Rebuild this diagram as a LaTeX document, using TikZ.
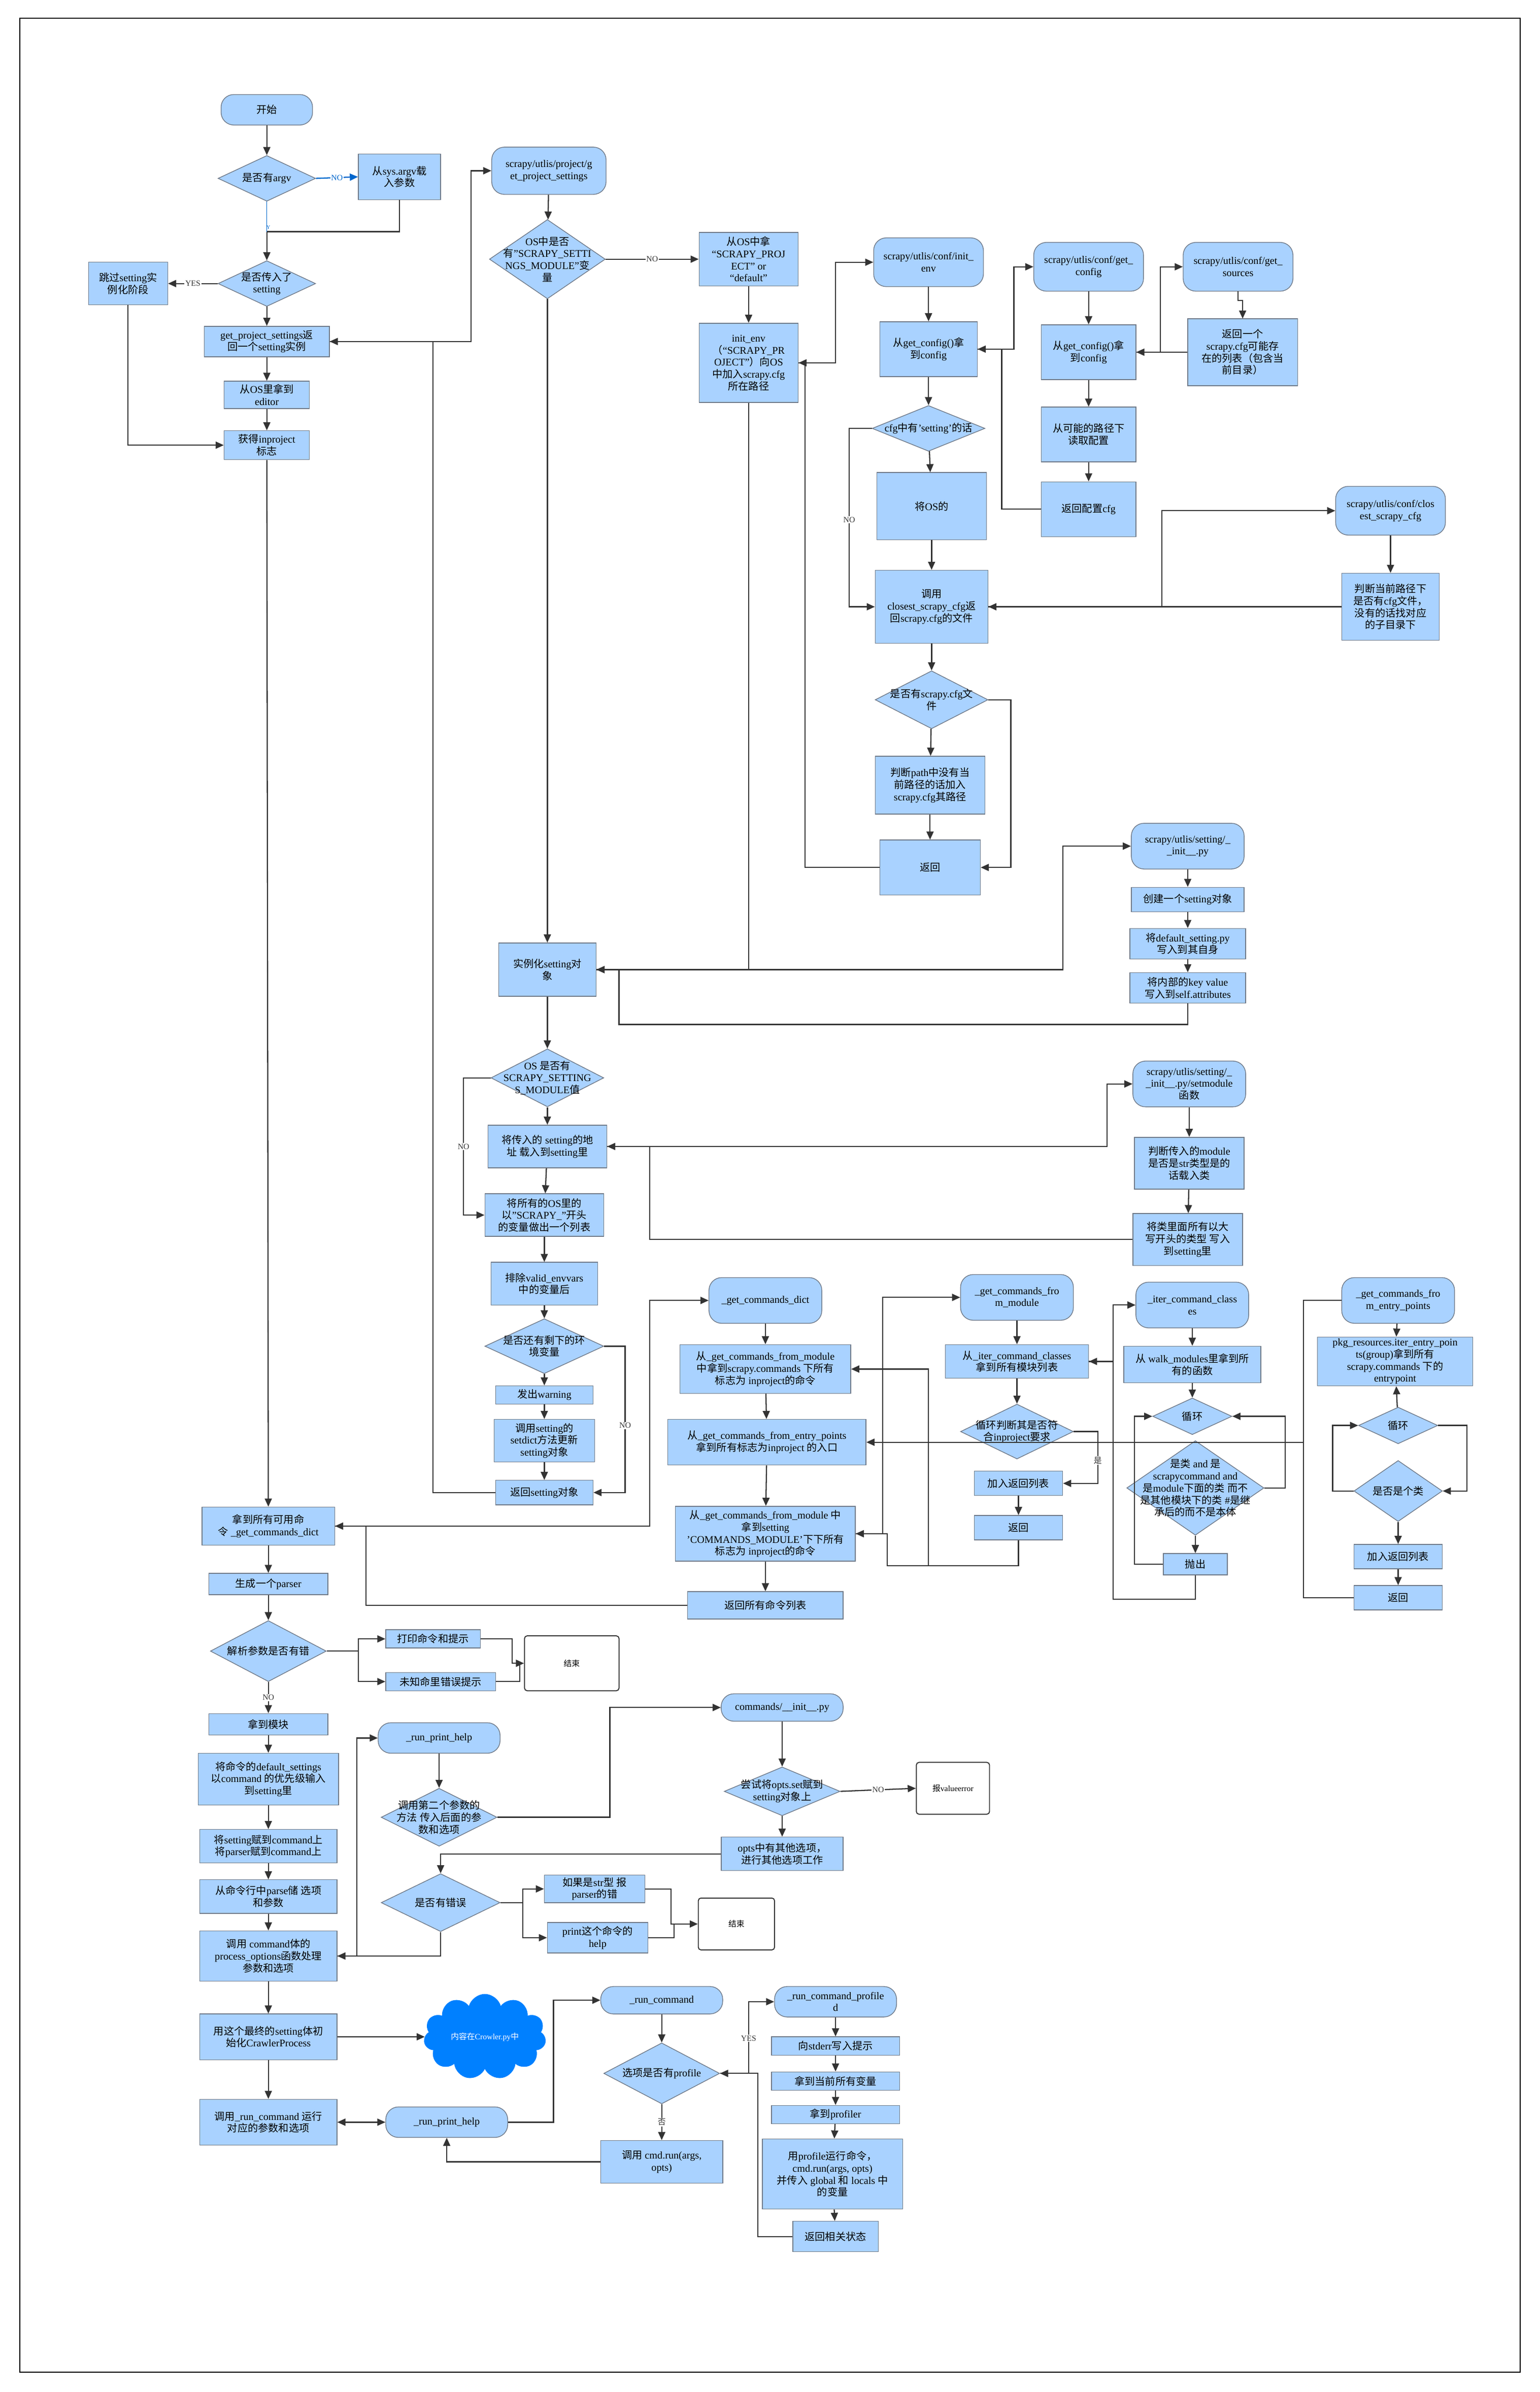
\documentclass[tikz,border=0pt]{standalone}
\usepackage{fontspec}
\setmainfont{Liberation Serif}
\newfontfamily\cjkfont{Noto Sans CJK SC}
\usetikzlibrary{shapes.geometric,shapes.symbols,arrows.meta}
\XeTeXinterchartokenstate=1
\newXeTeXintercharclass\cjkclass
\count255="2E80
\loop\XeTeXcharclass\count255=\cjkclass\advance\count255 by 1 \ifnum\count255<"A000 \repeat
\count255="FF00
\loop\XeTeXcharclass\count255=\cjkclass\advance\count255 by 1 \ifnum\count255<"FFF0 \repeat
\XeTeXinterchartoks 0 \cjkclass={\cjkfont}
\XeTeXinterchartoks 4095 \cjkclass={\cjkfont}
\XeTeXinterchartoks \cjkclass 0={\rmfamily}
\XeTeXinterchartoks \cjkclass 4095={\rmfamily}
\definecolor{fillc}{RGB}{169,210,255}
\definecolor{bdr}{RGB}{110,120,135}
\definecolor{linec}{RGB}{51,51,51}
\definecolor{cloudc}{RGB}{0,128,255}
\definecolor{blueln}{RGB}{0,102,204}
\newcommand\fs{\fontsize{11.5}{13.5}\selectfont}
\newcommand\fl{\fontsize{9}{10}\selectfont}
\newcommand\uu{0.0601cm}
\tikzset{
 box/.style 2 args={draw=bdr, fill=fillc, line width=0.8pt, minimum width=#1*\uu, minimum height=#2*\uu, inner sep=1pt, align=center, font=\fs},
 term/.style 2 args={box={#1}{#2}, rounded corners=0.5cm},
 dia/.style n args={3}{diamond, draw=bdr, fill=fillc, line width=0.8pt, minimum width=#1*\uu, minimum height=#2*\uu, inner sep=0pt, label={[font=\fs, align=center]center:{#3}}},
 endb/.style 2 args={draw=linec, fill=white, line width=1.1pt, rounded corners=3pt, minimum width=#1*\uu, minimum height=#2*\uu, font=\fl},
 ar/.style={draw=linec, line width=1.3pt, -{Triangle[length=0.32cm,width=0.28cm]}},
 ln/.style={draw=linec, line width=1.3pt},
 lab/.style={fill=white, font=\fl, inner sep=1pt, text=linec}
}
\begin{document}
\begin{tikzpicture}[x=\uu,y=-\uu]
\useasboundingbox (0,0) rectangle (1010,1569);
\draw[line width=0.8pt] (13,12) rectangle (997,1556);
% ---- column A
\node[term={60}{20}] (n1) at (175,72) {开始};
\node[dia={64}{30}{是否有argv}] (d1) at (175,117) {};
\node[box={54}{30}] (n2) at (262,116) {从sys.argv载\\入参数};
\node[dia={64}{30}{是否传入了\\setting}] (d2) at (175,186) {};
\node[box={52}{28}] (n3) at (84,186) {跳过setting实\\例化阶段};
\node[box={82}{20}] (n4) at (175,224) {get\_project\_settings返\\回一个setting实例};
\node[box={56}{18}] (n5) at (175,259) {从OS里拿到\\editor};
\node[box={56}{19}] (n6) at (175,292) {获得inproject\\标志};
\node[box={87}{25}] (n7) at (176,1001) {拿到所有可用命\\令 \_get\_commands\_dict};
\node[box={78}{14}] (n8) at (176,1039) {生成一个parser};
\node[dia={76}{40}{解析参数是否有错}] (n9) at (176,1083) {};
\node[box={62}{12}] (n10) at (284,1075) {打印命令和提示};
\node[box={72}{12}] (n11) at (289,1103) {未知命里错误提示};
\node[endb={62}{36}] (end1) at (375,1091) {结束};
\node[box={78}{14}] (n12) at (176,1131) {拿到模块};
\node[box={92}{34}] (n13) at (176,1167) {将命令的default\_settings\\以command 的优先级输入\\到setting里};
\node[box={90}{22}] (n14) at (176,1211) {将setting赋到command上\\将parser赋到command上};
\node[box={90}{22}] (n15) at (176,1244) {从命令行中parse储 选项\\和参数};
\node[box={90}{33}] (n16) at (176,1283) {调用 command体的\\process\_options函数处理\\参数和选项};
\node[box={90}{30}] (n17) at (176,1336) {用这个最终的setting体初\\始化CrawlerProcess};
\node[cloud, cloud puffs=11, aspect=1.6, fill=cloudc, draw=cloudc, minimum width=80*\uu, minimum height=48*\uu, text=white, font=\fl] (cl) at (318,1336) {内容在Crowler.py中};
\node[box={90}{30}] (n18) at (176,1392) {调用\_run\_command 运行\\对应的参数和选项};
\node[term={80}{20}] (n19) at (293,1392) {\_run\_print\_help};
% ---- middle lower
\node[term={80}{20}] (rph) at (288,1140) {\_run\_print\_help};
\node[dia={76}{38}{调用第二个参数的\\方法 传入后面的参\\数和选项}] (d3) at (288,1192) {};
\node[dia={78}{38}{是否有错误}] (d4) at (289,1248) {};
\node[box={66}{18}] (n20) at (390,1239) {如果是str型 报\\parser的错};
\node[box={66}{20}] (n21) at (392,1271) {print这个命令的\\help};
\node[endb={50}{34}] (end2) at (483,1262) {结束};
\node[term={80}{18}] (ci) at (513,1120) {commands/\_\_init\_\_.py};
\node[dia={76}{32}{尝试将opts.set赋到\\setting对象上}] (d5) at (513,1175) {};
\node[endb={48}{34}] (err) at (625,1173) {报valueerror};
\node[box={80}{22}] (n22) at (513,1216) {opts中有其他选项，\\进行其他选项工作};
\node[term={80}{18}] (rc) at (434,1312) {\_run\_command};
\node[dia={76}{40}{选项是否有profile}] (d6) at (434,1360) {};
\node[box={80}{28}] (n23) at (434,1418) {调用 cmd.run(args,\\opts)};
\node[term={80}{20}] (rcp) at (548,1313) {\_run\_command\_profile\\d};
\node[box={84}{12}] (n24) at (548,1342) {向stderr写入提示};
\node[box={84}{12}] (n25) at (548,1365) {拿到当前所有变量};
\node[box={84}{12}] (n26) at (548,1387) {拿到profiler};
\node[box={92}{46}] (n27) at (546,1426) {用profile运行命令，\\cmd.run(args, opts)\\并传入 global 和 locals 中\\的变量};
\node[box={56}{20}] (n28) at (548,1467) {返回相关状态};
% ---- upper middle
\node[term={75}{31}] (gps) at (360,112) {scrapy/utlis/project/g\\et\_project\_settings};
\node[dia={76}{52}{OS中是否\\有"SCRAPY\_SETTI\\NGS\_MODULE"变\\量}] (d7) at (359,170) {};
\node[box={65}{35}] (n30) at (491,170) {从OS中拿\\“SCRAPY\_PROJ\\ECT” or\\“default”};
\node[box={65}{52}] (n31) at (491,238) {init\_env\\（“SCRAPY\_PR\\OJECT”）向OS\\中加入scrapy.cfg\\所在路径};
\node[term={72}{32}] (ie) at (609,172) {scrapy/utlis/conf/init\_\\env};
\node[box={64}{36}] (n32) at (609,229) {从get\_config()拿\\到config};
\node[dia={74}{30}{cfg中有'setting'的话}] (d8) at (609,281) {};
\node[box={72}{44}] (n33) at (611,332) {将OS的};
\node[box={74}{48}] (n34) at (611,398) {调用\\closest\_scrapy\_cfg返\\回scrapy.cfg的文件};
\node[dia={74}{38}{是否有scrapy.cfg文\\件}] (d9) at (611,459) {};
\node[box={72}{38}] (n35) at (610,515) {判断path中没有当\\前路径的话加入\\scrapy.cfg其路径};
\node[box={66}{36}] (n36) at (610,569) {返回};
\node[term={72}{32}] (gc) at (714,175) {scrapy/utlis/conf/get\_\\config};
\node[box={62}{36}] (n37) at (714,231) {从get\_config()拿\\到config};
\node[box={62}{36}] (n38) at (714,285) {从可能的路径下\\读取配置};
\node[box={62}{36}] (n39) at (714,334) {返回配置cfg};
\node[term={72}{32}] (gs) at (812,175) {scrapy/utlis/conf/get\_\\sources};
\node[box={72}{44}] (n40) at (815,231) {返回一个\\scrapy.cfg可能存\\在的列表（包含当\\前目录）};
\node[term={72}{32}] (cs) at (912,335) {scrapy/utlis/conf/clos\\est\_scrapy\_cfg};
\node[box={64}{44}] (n41) at (912,398) {判断当前路径下\\是否有cfg文件，\\没有的话找对应\\的子目录下};
\node[term={74}{30}] (si) at (779,555) {scrapy/utlis/setting/\_\\\_init\_\_.py};
\node[box={74}{16}] (n42) at (779,590) {创建一个setting对象};
\node[box={76}{20}] (n43) at (779,619) {将default\_setting.py\\写入到其自身};
\node[box={76}{20}] (n44) at (779,648) {将内部的key value\\写入到self.attributes};
\node[box={64}{35}] (n45) at (359,636) {实例化setting对\\象};
\node[dia={74}{38}{OS 是否有\\SCRAPY\_SETTING\\S\_MODULE值}] (d10) at (359,707) {};
\node[box={78}{28}] (n46) at (359,752) {将传入的 setting的地\\址 载入到setting里};
\node[box={78}{28}] (n47) at (357,797) {将所有的OS里的\\以"SCRAPY\_"开头\\的变量做出一个列表};
\node[box={70}{28}] (n48) at (357,842) {排除valid\_envvars\\中的变量后};
\node[dia={78}{36}{是否还有剩下的环\\境变量}] (d11) at (357,883) {};
\node[box={64}{12}] (n49) at (357,915) {发出warning};
\node[box={66}{28}] (n50) at (357,945) {调用setting的\\setdict方法更新\\setting对象};
\node[box={64}{16}] (n51) at (357,979) {返回setting对象};
\node[term={74}{30}] (ssm) at (780,711) {scrapy/utlis/setting/\_\\\_init\_\_.py/setmodule\\函数};
\node[box={72}{34}] (n52) at (780,763) {判断传入的module\\是否是str类型是的\\话载入类};
\node[box={72}{34}] (n53) at (779,813) {将类里面所有以大\\写开头的类型 写入\\到setting里};
% ---- commands
\node[term={74}{30}] (gcd) at (502,853) {\_get\_commands\_dict};
\node[box={112}{32}] (n54) at (502,898) {从\_get\_commands\_from\_module\\中拿到scrapy.commands 下所有\\标志为 inproject的命令};
\node[box={130}{30}] (n55) at (503,946) {从\_get\_commands\_from\_entry\_points\\拿到所有标志为inproject 的入口};
\node[box={118}{36}] (n56) at (502,1006) {从\_get\_commands\_from\_module 中\\拿到setting\\'COMMANDS\_MODULE'下下所有\\标志为 inproject的命令};
\node[box={102}{18}] (n57) at (502,1053) {返回所有命令列表};
\node[term={74}{30}] (gcfm) at (667,851) {\_get\_commands\_fro\\m\_module};
\node[box={94}{22}] (n58) at (667,893) {从\_iter\_command\_classes\\拿到所有模块列表};
\node[dia={74}{36}{循环判断其是否符\\合inproject要求}] (d12) at (667,939) {};
\node[box={58}{16}] (n59) at (668,973) {加入返回列表};
\node[box={58}{16}] (n60) at (668,1002) {返回};
\node[term={74}{30}] (icc) at (782,856) {\_iter\_command\_class\\es};
\node[box={90}{24}] (n61) at (782,895) {从 walk\_modules里拿到所\\有的函数};
\node[dia={52}{24}{循环}] (d13) at (782,929) {};
\node[dia={90}{62}{是类 and 是\\scrapycommand and\\是module下面的类 而不\\是其他模块下的类 \#是继\\承后的而不是本体}] (d14) at (784,976) {};
\node[box={42}{14}] (n62) at (784,1026) {抛出};
\node[term={74}{30}] (gcep) at (917,853) {\_get\_commands\_fro\\m\_entry\_points};
\node[box={102}{32}] (n63) at (915,893) {pkg\_resources.iter\_entry\_poin\\ts(group)拿到所有\\scrapy.commands 下的\\entrypoint};
\node[dia={52}{24}{循环}] (d15) at (917,935) {};
\node[dia={58}{40}{是否是个类}] (d16) at (917,978) {};
\node[box={58}{16}] (n64) at (917,1021) {加入返回列表};
\node[box={58}{16}] (n65) at (917,1048) {返回};
% ================= connectors
\draw[ar] (n1) -- (d1);
\draw[ar, draw=blueln, -{Triangle[length=0.32cm,width=0.28cm]}] (d1.east) -- node[lab, text=blueln] (lno1) {NO} (n2.west);
\coordinate (j1) at (175,152);
\draw[ln, draw=blueln, line width=0.8pt] (d1.south) -- (j1);
\node[font=\fontsize{6}{6}\selectfont, text=blueln] (ly) at (176,149) {Y};
\draw[ln] (n2.south) |- (j1);
\draw[ar] (j1) -- (d2.north);
\draw[ar] (d2.west) -- node[lab] (lyes1) {YES} (n3.east);
\draw[ar] (d2) -- (n4);
\draw[ar] (n4) -- (n5);
\draw[ar] (n5) -- (n6);
\draw[ar] (n3.south) |- (n6.west);
\draw[ar] (n6) -- (n7);
\draw[ar] (n4.east) -- (309,224) |- (gps.west);
\draw[ar] (n51.west) -| (284,224) -- (n4.east);
\draw[ar] (gps) -- (d7);
\draw[ar] (d7.south) -- (n45.north);
\draw[ar] (d7.east) -- node[lab] (lno2) {NO} (n30.west);
\draw[ar] (n30) -- (n31);
\draw[ar] (n31.east) -- (548,238) |- (ie.west);
\draw[ar] (n36.west) -| (528,238) -- (n31.east);
\draw[ar] (n31.south) |- (n45.east);
\draw[ar] (ie) -- (n32);
\draw[ar] (n32) -- (d8);
\draw[ar] (d8) -- (n33);
\draw[ar] (n33) -- (n34);
\draw[ar] (d8.west) -- (557,281) |- (n34.west);
\node[lab] (lno3) at (557,341) {NO};
\draw[ar] (n32.east) -- (665,229) |- (gc.west);
\draw[ar] (n39.west) -| (657,229) -- (n32.east);
\draw[ar] (gc) -- (n37);
\draw[ar] (n37) -- (n38);
\draw[ar] (n38) -- (n39);
\draw[ar] (n37.east) -- (761,231) |- (gs.west);
\draw[ar] (n40.west) -- (n37.east);
\draw[ar] (gs.south) -- (812,197) -| (815,209);
\draw[ar] (n34.east) -- (762,398) |- (cs.west);
\draw[ar] (n41.west) -- (n34.east);
\draw[ar] (cs) -- (n41);
\draw[ar] (n34) -- (d9);
\draw[ar] (d9) -- (n35);
\draw[ar] (n35) -- (n36);
\draw[ar] (d9.east) -- (663,459) |- (n36.east);
\draw[ar] (si) -- (n42);
\draw[ar] (n42) -- (n43);
\draw[ar] (n43) -- (n44);
\draw[ar] (n45.east) -- (697,636) |- (si.west);
\draw[ar] (n44.south) -- (779,672) -| (406,636) -- (n45.east);
\draw[ar] (n45) -- (d10);
\draw[ar] (d10) -- (n46);
\draw[ar] (d10.west) -- (304,707) |- (n47.west);
\node[lab] (lno4) at (304,752) {NO};
\draw[ar] (n46) -- (n47);
\draw[ar] (n47) -- (n48);
\draw[ar] (n48) -- (d11);
\draw[ar] (d11) -- (n49);
\draw[ar] (n49) -- (n50);
\draw[ar] (n50) -- (n51);
\draw[ar] (d11.east) -- (410,883) |- (n51.east);
\node[lab] (lno5) at (410,935) {NO};
\draw[ar] (n46.east) -- (726,752) |- (ssm.west);
\draw[ar] (n53.west) -| (426,752) -- (n46.east);
\draw[ar] (ssm) -- (n52);
\draw[ar] (n52) -- (n53);
% commands
\draw[ar] (n7.east) -- (426,1001) |- (gcd.west);
\draw[ar] (n57.west) -| (240,1001) -- (n7.east);
\draw[ar] (gcd) -- (n54);
\draw[ar] (n54) -- (n55);
\draw[ar] (n55) -- (n56);
\draw[ar] (n56) -- (n57);
\coordinate (c60) at (609,1027);
\draw[ar] (n60.south) |- (582,1027) |- (n56.east);
\draw[ar] (c60) |- (n54.east);
\draw[ar] (n56.east) -- (579,1006) |- (gcfm.west);
\draw[ar] (gcep.west) -| (855,946) -- (n55.east);
\draw[ln] (n65.west) -| (855,946);
\draw[ar] (n58.east) -- (730,893) |- (icc.west);
\draw[ar] (n62.south) -- (784,1049) -| (730,893) -- (n58.east);
\draw[ar] (gcfm) -- (n58);
\draw[ar] (n58) -- (d12);
\draw[ar] (d12.east) -- (720,939) |- (n59.east);
\node[lab] (lshi) at (720,958) {是};
\draw[ar] (n59) -- (n60);
\draw[ar] (icc) -- (n61);
\draw[ar] (n61) -- (d13);
\draw[ar] (d14) -- (n62);
\draw[ar] (n62.west) -- (744,1026) |- (d13.west);
\draw[ar] (d14.east) -- (843,976) |- (d13.east);
\draw[ar] (gcep) -- (n63);
\draw[ar] (d15) -- (n63);
\draw[ar] (d16.west) -- (874,978) |- (d15.west);
\draw[ar] (d15.east) -- (962,935) |- (d16.east);
\draw[ar] (d16) -- (n64);
\draw[ar] (n64) -- (n65);
% bottom
\draw[ar] (n7) -- (n8);
\draw[ar] (n8) -- (n9);
\draw[ar] (n9.east) -- (235,1083) |- (n10.west);
\draw[ar] (235,1083) |- (n11.west);
\draw[ar] (n10.east) -| (336,1091) -- (end1.west);
\draw[ln] (n11.east) -| (341,1091);
\draw[ar] (n9) -- node[lab] (lno6) {NO} (n12);
\draw[ar] (n12) -- (n13);
\draw[ar] (n13) -- (n14);
\draw[ar] (n14) -- (n15);
\draw[ar] (n15) -- (n16);
\draw[ar] (n16) -- (n17);
\draw[ar] (n17) -- (n18);
\draw[ar] (d4.south) |- (n16.east);
\draw[ar] (n16.east) -- (234,1283) |- (rph.west);
\draw[ar] (rph) -- (d3);
\draw[ar] (d3.east) -- (400,1192) |- (ci.west);
\draw[ar] (ci) -- (d5);
\draw[ar] (d5.east) -- node[lab] (lno7) {NO} (err.west);
\draw[ar] (d5) -- (n22);
\draw[ar] (n22.west) -| (d4.north);
\draw[ar] (d4.east) -- (343,1248) |- (n20.west);
\draw[ar] (343,1248) |- (n21.west);
\draw[ar] (n20.east) -| (440,1262) -- (end2.west);
\draw[ln] (n21.east) -| (442,1262);
\draw[ar] (n17) -- (cl);
\draw[ln, {Triangle[length=0.32cm,width=0.28cm]}-{Triangle[length=0.32cm,width=0.28cm]}] (n18) -- (n19);
\draw[ar] (n19.east) -- (363,1392) |- (rc.west);
\draw[ar] (n23.west) -| (n19.south);
\draw[ar] (rc) -- (d6);
\draw[ar] (d6) -- node[lab] (lfou) {否} (n23);
\draw[ar] (d6.east) -- (491,1360) |- (rcp.west);
\node[lab] (lyes2) at (491,1337) {YES};
\draw[ar] (n28.west) -| (497,1360) -- (d6.east);
\draw[ar] (rcp) -- (n24);
\draw[ar] (n24) -- (n25);
\draw[ar] (n25) -- (n26);
\draw[ar] (n26) -- (n27);
\draw[ar] (n27) -- (n28);
\end{tikzpicture}
\end{document}
